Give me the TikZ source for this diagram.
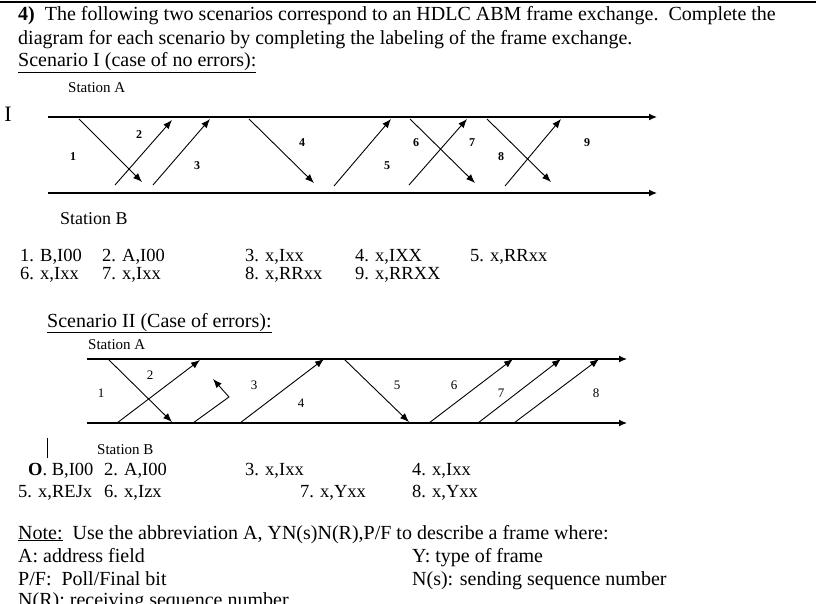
\documentclass[tikz,border=0pt]{standalone}
\usepackage{fontspec}
\setmainfont{Liberation Serif}
\usetikzlibrary{arrows.meta}
\begin{document}
\begin{tikzpicture}[x=1pt,y=-1pt,
  txt/.style={anchor=base west,inner sep=0pt,font=\fontsize{20}{22}\selectfont},
  lst/.style={anchor=base west,inner sep=0pt,font=\fontsize{18.5}{20}\selectfont},
  lbl/.style={inner sep=0pt,font=\fontsize{15}{17}\selectfont},
  num/.style={inner sep=0pt,font=\bfseries\fontsize{12}{14}\selectfont},
  numb/.style={inner sep=0pt,font=\fontsize{13}{15}\selectfont},
  tl/.style={line width=1.2pt,-{Latex[length=8pt,width=7pt]}},
  fr/.style={line width=0.9pt,-{Latex[length=9pt,width=7pt]}}]
\useasboundingbox[fill=white] (0,0) rectangle (816,604);
\draw[line width=1.2pt] (0,2) -- (816,2);
\node[txt] (h1) at (18,21) {\textbf{4)}\ \ The following two scenarios correspond to an HDLC ABM frame exchange.\ \ Complete the};
\node[txt] (h2) at (18,45) {diagram for each scenario by completing the labeling of the frame exchange.};
\node[txt] (s1) at (18,67) {\underline{Scenario I (case of no errors):}};
\node[lbl,anchor=west] (sa1) at (68,88) {Station A};
\node[inner sep=0pt,font=\fontsize{22}{24}\selectfont] (cur) at (8,114) {I};
% scenario I
\coordinate (a0) at (48,117); \coordinate (a1) at (657,117);
\coordinate (b0) at (48,193); \coordinate (b1) at (657,193);
\draw[tl] (a0) -- (a1);
\draw[tl] (b0) -- (b1);
\foreach \n/\xa/\ya/\xb/\yb in {f1/79/119/142/182, f2/115/185/172/120, f3/153/185/210/119, f4/249/119/314/183, f5/334/186/391/119, f6/410/119/475/183, f7/409/185/467/119, f8/487/119/551/182, f9/505/186/561/119}{
  \coordinate (\n s) at (\xa,\ya); \coordinate (\n e) at (\xb,\yb);
  \draw[fr] (\n s) -- (\n e);}
\foreach \n/\x/\y in {1/73/157,2/139/135,3/197/166,4/302/143,5/387/166,6/416/143,7/472/143,8/501/157,9/587/143}
  \node[num] (l1\n) at (\x,\y) {\n};
\node[lbl,anchor=west,font=\fontsize{18}{20}\selectfont] (sb1) at (60,219) {Station B};
\node[lst] (r11) at (20,261) {1. B,I00};
\node[lst] (r12) at (102,261) {2. A,I00};
\node[lst] (r13) at (245,261) {3. x,Ixx};
\node[lst] (r14) at (355,261) {4. x,IXX};
\node[lst] (r15) at (470,261) {5. x,RRxx};
\node[lst] (r16) at (20,279) {6. x,Ixx};
\node[lst] (r17) at (102,279) {7. x,Ixx};
\node[lst] (r18) at (245,279) {8. x,RRxx};
\node[lst] (r19) at (355,279) {9. x,RRXX};
\node[txt] (s2) at (47,327) {\underline{Scenario II (Case of errors):}};
\node[lbl,anchor=west] (sa2) at (88,345) {Station A};
% scenario II
\coordinate (c0) at (87,359); \coordinate (c1) at (627,359);
\coordinate (d0) at (87,423); \coordinate (d1) at (627,423);
\draw[tl] (c0) -- (c1);
\draw[tl] (d0) -- (d1);
\foreach \n/\xa/\ya/\xb/\yb in {g1/108/359/172/422, g2/117/423/200/360, g3/240/423/324/359, g5/344/359/409/422, g6/429/423/513/359, g7/478/423/561/359, g8/514/423/599/359}{
  \coordinate (\n s) at (\xa,\ya); \coordinate (\n e) at (\xb,\yb);
  \draw[fr] (\n s) -- (\n e);}
\coordinate (bk0) at (193,423); \coordinate (bk1) at (229,397); \coordinate (bk2) at (213,379);
\draw[fr] (bk0) -- (bk1) -- (bk2);
\foreach \n/\x/\y in {1/101/393,2/150/375,3/254/385,4/301/403,5/397/385,6/454/385,7/501/393,8/596/393}
  \node[numb] (l2\n) at (\x,\y) {\n};
\coordinate (v0) at (47,438); \coordinate (v1) at (47,458);
\draw[line width=1pt] (v0) -- (v1);
\node[lbl,anchor=west] (sb2) at (97,450) {Station B};
\node[lst] (r21) at (28,475) {\textbf{O}. B,I00};
\node[lst] (r22) at (104,475) {2. A,I00};
\node[lst] (r23) at (245,475) {3. x,Ixx};
\node[lst] (r24) at (412,475) {4. x,Ixx};
\node[lst] (r25) at (18,497) {5. x,REJx};
\node[lst] (r26) at (104,497) {6. x,Izx};
\node[lst] (r27) at (300,497) {7. x,Yxx};
\node[lst] (r28) at (412,497) {8. x,Yxx};
\node[txt] (n1) at (18,539) {\underline{Note:}\ \ Use the abbreviation A, YN(s)N(R),P/F to describe a frame where:};
\node[txt] (n2) at (18,562) {A: address field};
\node[txt] (n3) at (412,562) {Y: type of frame};
\node[txt] (n4) at (18,585) {P/F:\ \ Poll/Final bit};
\node[txt] (n5) at (412,585) {N(s): sending sequence number};
\node[txt] (n6) at (18,606) {N(R): receiving sequence number};
\end{tikzpicture}
\end{document}
